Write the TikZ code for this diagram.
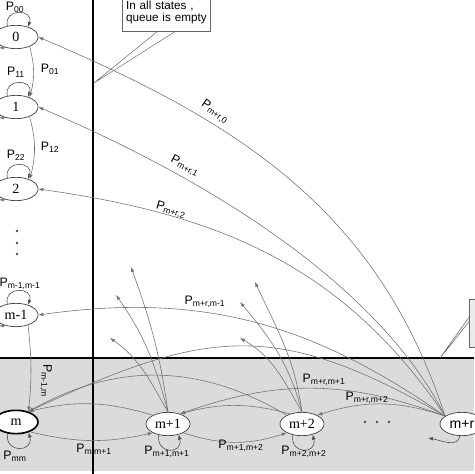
\documentclass[tikz,border=0pt]{standalone}
\usepackage{fontspec}
\setmainfont{Liberation Serif}
\setsansfont{Liberation Sans}
\usepackage{tikz}
\usetikzlibrary{positioning,arrows.meta,shapes.geometric}
\newcommand{\trp}[1]{P\textsubscript{#1}}

\begin{document}
\begin{tikzpicture}[x=0.3mm,y=-0.3mm,
    state/.style={ellipse,draw=black!75,fill=white,line width=0.6pt,minimum width=13.2mm,minimum height=7mm,inner sep=0pt,font=\fontsize{12}{12}\selectfont},
    tr/.style={draw=black!55,line width=0.5pt,-{Latex[length=1.5mm,width=1.1mm]}},
    lab/.style={font=\sffamily\fontsize{10.5}{10.5}\selectfont,inner sep=0pt}]
  \useasboundingbox (0,0) rectangle (474,474);
  % lower part (queue not empty) and the two dividing lines
  \fill[black!14](0,358) rectangle (474,471);
  \draw[line width=1pt](93,0)--(93,474);
  \draw[line width=1pt](0,358)--(474,358);

  % states
  \node[state] (s0) at (16,37) {0};
  \node[state] (s1) at (16,107) {1};
  \node[state] (s2) at (16,189) {2};
  \node[state] (sm1) at (16,315) {m-1};
  \node[state,line width=1.4pt,draw=black] (sm) at (16,422) {m};
  \node[state] (sp1) at (168,424) {m+1};
  \node[state] (sp2) at (302,424) {m+2};
  \node[state,font=\sffamily\fontsize{12}{12}\selectfont] (spr) at (462,424) {m+r};
  \foreach \y in {231,243,254} \fill[black!70] (17,\y) circle (1.3);
  \foreach \x in {365,377,389} \fill[black!70] (\x,422) circle (1.3);

  % self loops
  \foreach \s in {s0,s1,s2,sm1}
    \draw[tr,draw=black!70] (\s.128) .. controls +(-4,-18) and +(6,-18) .. (\s.40);
  \draw[tr,draw=black!70] (sm.-125) .. controls +(-4,20) and +(6,20) .. (sm.-40);
  \draw[tr,draw=black!70] (sp1.-130) .. controls +(-3,20) and +(5,20) .. (sp1.-45);
  \draw[tr,draw=black!70] (sp2.-130) .. controls +(-3,20) and +(5,20) .. (sp2.-45);
  \coordinate (rl) at (428,438);
  \draw[tr,draw=black!70] (spr.-100) to[out=-100,in=-10] (rl);

  % stubs at the left edge
  \coordinate (o0) at (-1,48); \coordinate (o1) at (-1,118);
  \coordinate (o2) at (-1,200); \coordinate (o3) at (-1,326);
  \draw[tr] (s0.-135) -- (o0); \draw[tr] (s1.-135) -- (o1);
  \draw[tr] (s2.-135) -- (o2); \draw[tr] (sm1.-135) -- (o3);

  % forward steps
  \draw[tr] (s0.-35) to[bend left=15] (s1.35);
  \draw[tr] (s1.-35) to[bend left=15] (s2.35);
  \draw[tr] (sm1.-40) to[bend left=6] (sm.40);
  \draw[tr] (sm.-35) to[bend right=13] (sp1.-150);
  \draw[tr] (sp1.-30) to[bend right=18] (sp2.-150);

  % back steps inside the lower part
  \draw[tr] (sp1.150) to[bend right=15] (sm.40);
  \draw[tr] (sp2.150) to[bend right=30] (sm.40);
  \draw[tr] (spr.155) to[out=150,in=25,looseness=1.2] (sm.40);
  \draw[tr] (sp2.140) to[bend right=15] (sp1.40);
  \draw[tr] (spr.155) to[bend right=20] (sp1.40);
  \draw[tr] (spr.155) to[bend right=18] (sp2.30);

  % from m+r back to the upper states
  \draw[tr] (spr.155) to[out=108,in=-23] (s0.east);
  \draw[tr] (spr.155) to[out=117,in=-23,looseness=0.8] (s1.east);
  \draw[tr] (spr.155) to[out=124,in=-8] (s2.east);
  \draw[tr] (spr.155) to[out=145,in=8] (sm1.east);

  % fans out of m+1 and m+2
  \coordinate (fa) at (131,267); \coordinate (fb) at (116,295); \coordinate (fc) at (110,338);
  \coordinate (fd) at (255,282); \coordinate (fe) at (240,302); \coordinate (ff) at (240,338);
  \draw[tr] (sp1.north) to[out=98,in=-70] (fa);
  \draw[tr] (sp1.north) to[out=105,in=-55] (fb);
  \draw[tr] (sp1.north) to[out=120,in=-35] (fc);
  \draw[tr] (sp2.north) to[out=98,in=-65] (fd);
  \draw[tr] (sp2.north) to[out=105,in=-50] (fe);
  \draw[tr] (sp2.north) to[out=120,in=-30] (ff);

  % labels
  \node[lab] (p00) at (15,7) {\trp{00}};
  \node[lab] (p01) at (50,69) {\trp{01}};
  \node[lab] (p11) at (16,72) {\trp{11}};
  \node[lab] (p12) at (50,147) {\trp{12}};
  \node[lab] (p22) at (16,155) {\trp{22}};
  \node[lab] (pm1m1) at (20,284) {\trp{m-1,m-1}};
  \node[lab,rotate=-90] (pm1m) at (46,381) {\trp{m-1,m}};
  \node[lab] (pmm) at (15,456) {\trp{mm}};
  \node[lab] (pmp1) at (94,450) {\trp{m,m+1}};
  \node[lab] (pp1p1) at (167,452) {\trp{m+1,m+1}};
  \node[lab] (pp1p2) at (241,446) {\trp{m+1,m+2}};
  \node[lab] (pp2p2) at (304,452) {\trp{m+2,m+2}};
  \node[lab,rotate=-34] (pr0) at (215,112) {\trp{m+r,0}};
  \node[lab,rotate=-28] (pr1) at (185,166) {\trp{m+r,1}};
  \node[lab,rotate=-16] (pr2) at (171,210) {\trp{m+r,2}};
  \node[lab] (prm1) at (205,302) {\trp{m+r,m-1}};
  \node[lab] (prp1) at (324,380) {\trp{m+r,m+1}};
  \node[lab] (prp2) at (367,398) {\trp{m+r,m+2}};

  % notes
  \coordinate (tip1) at (94,83);
  \draw[black!60] (158,31) -- (tip1) -- (176,31);
  \node[draw=black!60,fill=white,minimum width=26.1mm,minimum height=11.1mm,text width=24.3mm,
        inner xsep=1mm,align=left,font=\sffamily\fontsize{10}{11}\selectfont] (note1) at (166.5,12.5)
        {In all states ,\\queue is empty};
  \coordinate (tip2) at (440,358);
  \draw[black!60,fill=black!8] (472,313) -- (tip2) -- (469,322) -- cycle;
  \node[draw=black!60,fill=black!8,minimum width=6.6mm,minimum height=14.4mm] (note2) at (480,323) {};
\end{tikzpicture}
\end{document}
